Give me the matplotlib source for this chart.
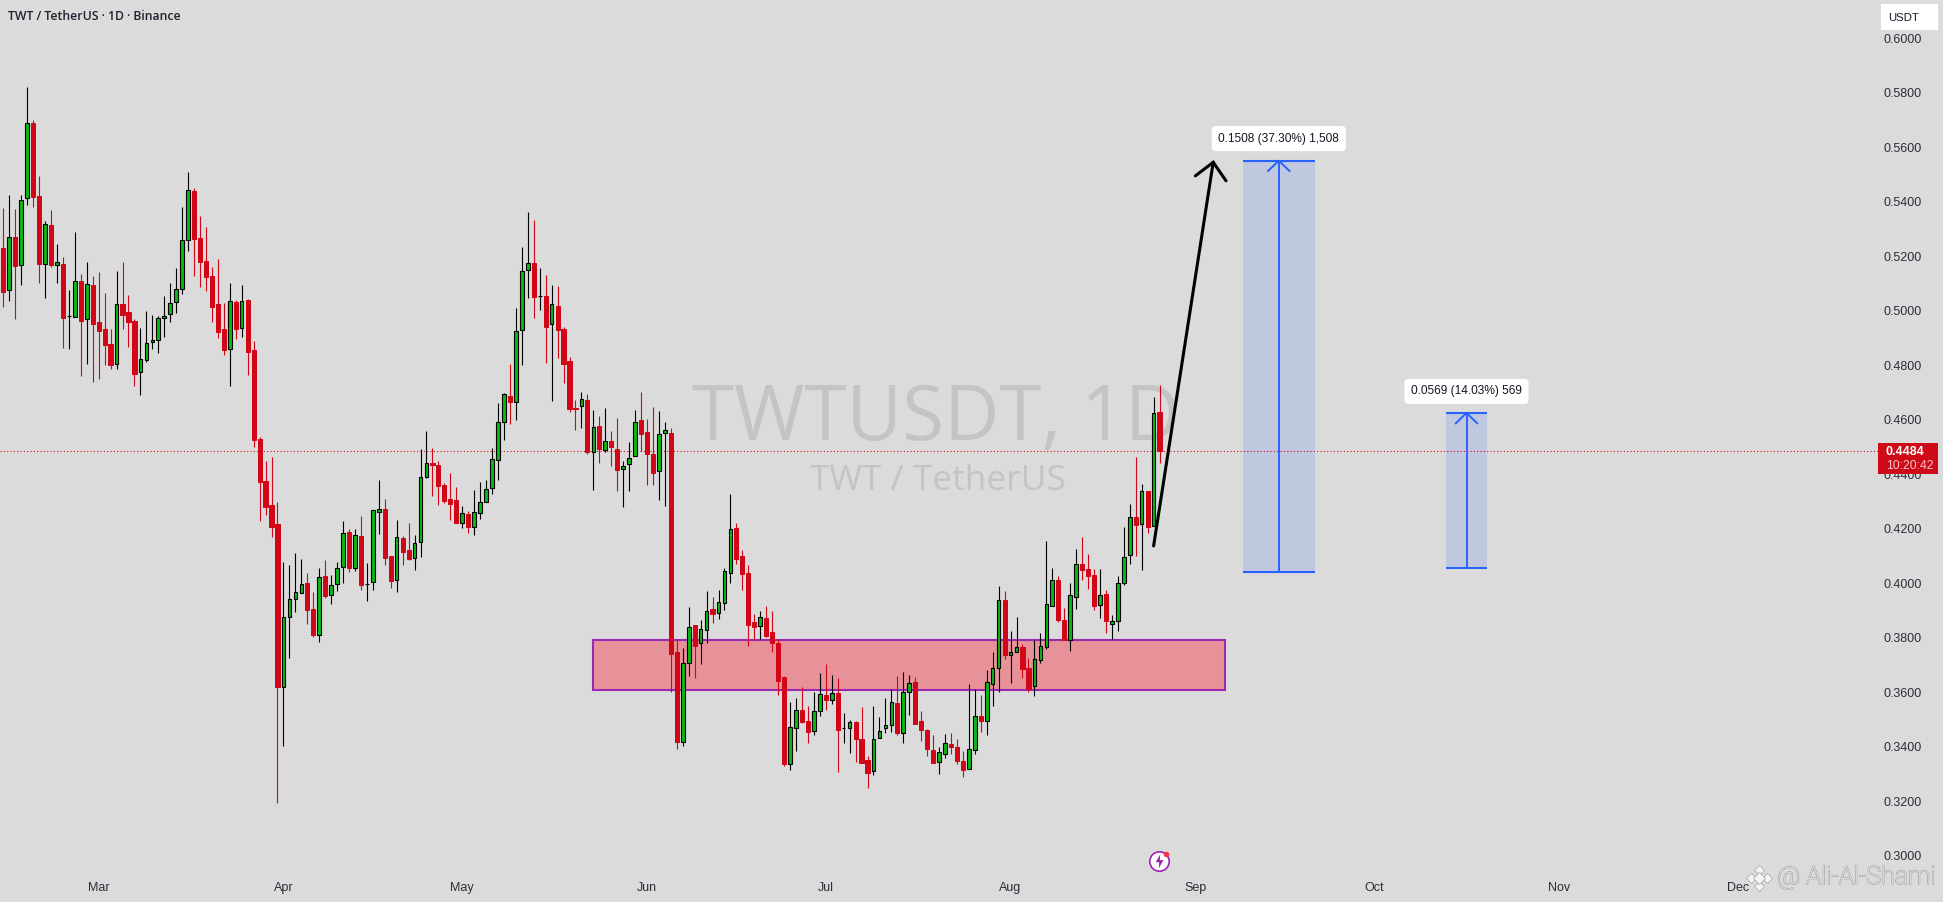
import numpy as np
import matplotlib
matplotlib.use('Agg')
import matplotlib.pyplot as plt
from matplotlib.lines import Line2D
from matplotlib.patches import Rectangle
import matplotlib.patheffects as pe

W, H = 1943, 902

# daily candles, one per day from Feb 13
opens = [
    .5229, .5075, .5270, .5167, .5413, .5688, .5420, .5170, .5313, .5167,
    .5170, .4979, .4976, .5108, .4969, .5093, .4957, .4932, .4877, .4803,
    .5024, .4994, .4961, .4774, .4818, .4884, .4891, .4972, .4987, .5031,
    .5079, .5258, .5438, .5266, .5181, .5126, .5024, .4932, .4858, .5031,
    .4935, .5038, .4856, .4528, .4374, .4286, .4216, .3618, .3875, .3941,
    .3963, .4000, .3905, .3809, .4025, .3956, .3996, .4058, .4187, .4055,
    .4172, .3997, .4004, .4260, .4271, .4099, .4011, .4165, .4121, .4091,
    .4150, .4391, .4440, .4434, .4361, .4310, .4306, .4222, .4253, .4208,
    .4259, .4297, .4348, .4451, .4591, .4687, .4664, .4928, .5148, .5174,
    .5053, .5053, .4950, .5016, .4932, .4815, .4643, .4650, .4672, .4481,
    .4576, .4488, .4521, .4492, .4418, .4437, .4466, .4598, .4554, .4473,
    .4411, .4550, .4550, .3748, .3419, .3706, .3846, .3782, .3830, .3906,
    .3890, .3929, .4039, .4203, .4100, .4037, .3858, .3842, .3873, .3821,
    .3781, .3656, .3338, .3468, .3535, .3495, .3456, .3530, .3589, .3573,
    .3598, .3468, .3470, .3491, .3429, .3352, .3310, .3431, .3467, .3479,
    .3561, .3452, .3602, .3638, .3495, .3462, .3388, .3343, .3375, .3410,
    .3399, .3348, .3318, .3387, .3513, .3496, .3632, .3690, .3939, .3738,
    .3749, .3766, .3688, .3624, .3720, .3765, .3916, .4011, .3866, .3791,
    .3951, .4070, .4052, .4030, .3920, .3960, .3852, .3860, .4000, .4103,
    .4244, .4217, .4338, .4209, .4628]
closes = [
    .5070, .5272, .5166, .5408, .5688, .5419, .5173, .5317, .5169, .5178,
    .4975, .4980, .5108, .4964, .5097, .4953, .4927, .4876, .4802, .5024,
    .4986, .4960, .4769, .4822, .4883, .4891, .4972, .4982, .5030, .5079,
    .5258, .5442, .5264, .5180, .5125, .5015, .4923, .4857, .5035, .4934,
    .5035, .4850, .4527, .4373, .4281, .4208, .3621, .3877, .3941, .3967,
    .3996, .3900, .3811, .4024, .3954, .3995, .4057, .4183, .4057, .4176,
    .3995, .3998, .4267, .4271, .4094, .4010, .4169, .4116, .4090, .4149,
    .4391, .4440, .4435, .4358, .4302, .4292, .4222, .4257, .4208, .4260,
    .4297, .4345, .4457, .4591, .4693, .4667, .4925, .5145, .5174, .5052,
    .5054, .4942, .5024, .4931, .4806, .4641, .4641, .4675, .4480, .4575,
    .4491, .4521, .4501, .4417, .4429, .4459, .4591, .4549, .4476, .4406,
    .4547, .4561, .3741, .3419, .3706, .3841, .3771, .3831, .3897, .3887,
    .3930, .4044, .4198, .4089, .4035, .3847, .3840, .3875, .3807, .3781,
    .3642, .3337, .3472, .3534, .3491, .3455, .3530, .3593, .3572, .3596,
    .3463, .3469, .3490, .3429, .3342, .3305, .3428, .3457, .3479, .3563,
    .3451, .3600, .3633, .3484, .3462, .3390, .3341, .3379, .3413, .3399,
    .3348, .3313, .3391, .3512, .3496, .3637, .3688, .3938, .3738, .3749,
    .3765, .3685, .3613, .3721, .3769, .3923, .4011, .3866, .3790, .3956,
    .4070, .4047, .4028, .3915, .3956, .3860, .3861, .4000, .4098, .4242,
    .4212, .4338, .4208, .4624, .4484]
highs = [
    .5376, .5425, .5374, .5425, .5820, .5702, .5493, .5328, .5370, .5244,
    .5197, .5076, .5288, .5134, .5179, .5126, .5141, .5065, .4932, .5146,
    .5179, .5058, .4969, .4937, .4998, .4983, .4980, .5053, .5101, .5156,
    .5381, .5508, .5449, .5348, .5306, .5159, .5189, .5027, .5101, .5038,
    .5094, .5043, .4889, .4537, .4449, .4464, .4298, .4077, .4067, .4110,
    .4089, .4038, .3968, .4056, .4085, .4029, .4077, .4229, .4198, .4198,
    .4247, .4075, .4267, .4379, .4310, .4100, .4232, .4173, .4221, .4177,
    .4492, .4559, .4496, .4449, .4367, .4403, .4352, .4284, .4264, .4342,
    .4372, .4379, .4496, .4660, .4697, .4805, .5010, .5234, .5361, .5333,
    .5156, .5131, .5095, .5091, .4940, .4829, .4673, .4702, .4695, .4636,
    .4614, .4643, .4559, .4607, .4449, .4519, .4636, .4702, .4603, .4647,
    .4632, .4591, .4569, .3792, .3761, .3912, .3847, .3864, .3972, .3950,
    .3976, .4055, .4327, .4220, .4122, .4066, .3887, .3898, .3916, .3898,
    .3795, .3660, .3565, .3579, .3618, .3550, .3601, .3670, .3704, .3664,
    .3653, .3523, .3497, .3493, .3546, .3365, .3550, .3510, .3579, .3612,
    .3660, .3675, .3664, .3656, .3532, .3466, .3444, .3399, .3447, .3451,
    .3429, .3385, .3631, .3612, .3590, .3682, .3748, .3990, .3972, .3824,
    .3875, .3776, .3725, .3792, .3817, .4154, .4055, .4027, .3910, .4000,
    .4125, .4169, .4108, .4052, .4052, .3976, .3884, .4027, .4206, .4290,
    .4463, .4364, .4338, .4683, .4728]
lows = [
    .5015, .5037, .4971, .5096, .5389, .5382, .5103, .5048, .5162, .5103,
    .4865, .4861, .4976, .4762, .4806, .4740, .4751, .4802, .4788, .4788,
    .4934, .4868, .4725, .4692, .4813, .4861, .4846, .4905, .4960, .4993,
    .5063, .5220, .5129, .5088, .5074, .4960, .4901, .4839, .4725, .4898,
    .4905, .4765, .4501, .4230, .4251, .4170, .3195, .3401, .3727, .3895,
    .3963, .3851, .3804, .3786, .3947, .3924, .3973, .4001, .4041, .4046,
    .3975, .3935, .3975, .4181, .4067, .3983, .3968, .4067, .4085, .4049,
    .4098, .4386, .4320, .4287, .4295, .4232, .4222, .4203, .4184, .4177,
    .4236, .4297, .4328, .4379, .4526, .4586, .4599, .4802, .5048, .4975,
    .5003, .4810, .4670, .4827, .4736, .4629, .4564, .4571, .4475, .4344,
    .4443, .4483, .4432, .4340, .4278, .4340, .4466, .4487, .4362, .4362,
    .4307, .4285, .3602, .3393, .3403, .3660, .3654, .3704, .3781, .3854,
    .3869, .3902, .4002, .4071, .3977, .3768, .3790, .3797, .3803, .3748,
    .3590, .3330, .3315, .3385, .3488, .3414, .3444, .3514, .3533, .3557,
    .3309, .3414, .3377, .3344, .3342, .3249, .3297, .3431, .3451, .3455,
    .3444, .3414, .3517, .3484, .3421, .3366, .3341, .3300, .3360, .3374,
    .3337, .3289, .3318, .3374, .3454, .3443, .3550, .3601, .3722, .3634,
    .3749, .3652, .3601, .3586, .3709, .3758, .3916, .3858, .3790, .3752,
    .3907, .4013, .3979, .3902, .3873, .3818, .3795, .3823, .3994, .4071,
    .4101, .4049, .4186, .4209, .4442]

month_labels = ['Mar', 'Apr', 'May', 'Jun', 'Jul', 'Aug', 'Sep', 'Oct', 'Nov', 'Dec']
month_days = [16, 47, 77, 108, 138, 169, 200, 230, 261, 291]
price_ticks = [0.30 + 0.02 * i for i in range(16)]
last_price = 0.4484

bg = '#dbdbdb'
green, red = '#0bb814', '#d10717'
blue = '#2962ff'
font = ['Liberation Sans', 'DejaVu Sans']
plt.rcParams['font.family'] = font

fig = plt.figure(figsize=(W / 100, H / 100), dpi=100, facecolor=bg)
ax = fig.add_axes([0, 30 / H, 1878 / W, 872 / H], facecolor=bg)
ax.set_xlim(-0.554, 314.54)
ax.set_ylim(0.29402, 0.61406)
for s in ax.spines.values():
    s.set_visible(False)

ax.set_xticks(month_days)
ax.set_xticklabels(month_labels)
ax.set_yticks(price_ticks)
ax.set_yticklabels(['%.4f' % p for p in price_ticks])
ax.yaxis.tick_right()
ax.tick_params(axis='both', length=0, labelsize=9, labelcolor='#2a2e39')
ax.tick_params(axis='y', pad=4.3)
ax.tick_params(axis='x', pad=7.2)


def px(x, y):
    return x / W, 1 - y / H


# big symbol watermark behind everything
ax.text(156.5, 0.4526, 'TWTUSDT, 1D', fontsize=55, color='#c3c4c6', ha='center',
        va='baseline', family='Open Sans', zorder=0.5)
ax.text(156.8, 0.4342, 'TWT / TetherUS', fontsize=25.5, color='#c3c4c6', ha='center',
        va='baseline', family='Open Sans', zorder=0.5)

# support zone
ax.add_patch(Rectangle((99, 0.3608), 106, 0.3792 - 0.3608, fc='#e69298',
                       ec='#9c27b0', lw=1.5, zorder=1))

# price range tools
for left, right, base, top in [(208, 220, .4043, .5551), (242, 249, .4056, .4625)]:
    mid = (left + right) / 2
    ax.add_patch(Rectangle((left, base), right - left, top - base, fc='#bfc8df', ec='none', zorder=1.5))
    ax.hlines([base, top], left, right, color=blue, lw=1.5, zorder=2.5)
    ax.plot([mid, mid], [base, top], color=blue, lw=1.4, zorder=2.5)
    ax.plot([mid - 1.8, mid, mid + 1.8], [top - .0038, top, top - .0038], color=blue, lw=1.4, zorder=2.5)

ax.axhline(last_price, color=red, lw=0.8, ls=(0, (1, 2)), zorder=2)

# candles
x = np.arange(len(opens))
o, c, h, l = map(np.array, (opens, closes, highs, lows))
up = c >= o
ax.vlines(x[up], l[up], h[up], color='black', lw=0.8, zorder=3)
ax.vlines(x[~up], l[~up], h[~up], color=red, lw=0.8, zorder=3)
ax.bar(x[~up], (o - c)[~up], bottom=c[~up], width=0.7, color=red, edgecolor=red, lw=0.72, zorder=4)
ax.bar(x[up], (c - o)[up], bottom=o[up], width=0.6, color=green, edgecolor='black', lw=0.8, zorder=4.1)

# hand drawn black arrow
ax.plot([193, 203], [.4137, .5545], color='black', lw=2.2, solid_capstyle='round', zorder=5)
ax.plot([200, 203, 205.15], [.5495, .5545, .5477], color='black', lw=2.2,
        solid_capstyle='round', solid_joinstyle='miter', zorder=5)

# measure labels
box = dict(boxstyle='round,pad=0.55,rounding_size=0.35', fc='white', ec='none')
ax.text(214, .5632, '0.1508 (37.30%) 1,508', fontsize=8.6, color='#131722', ha='center', va='center', bbox=box, zorder=6)
ax.text(245.5, .4704, '0.0569 (14.03%) 569', fontsize=8.6, color='#131722', ha='center', va='center', bbox=box, zorder=6)

# lightning icon
ax.plot([193.9], [.2981], 'o', ms=14, mfc='white', mec='#a01fb5', mew=1.2, zorder=6)
bolt = [(0.1, 1), (-0.55, -0.1), (-0.05, -0.1), (-0.1, -1), (0.55, 0.2), (0.05, 0.2)]
ax.plot([193.9], [.2981], marker=bolt, ms=10, mfc='#a01fb5', mec='none', zorder=6.1)
ax.plot([195.0], [.3007], 'o', ms=4, mfc='#f23645', mec='none', zorder=6.2)

# price scale tags
fig.add_artist(Rectangle(px(1881, 30), 57 / W, 26 / H, fc='white', ec='none', transform=fig.transFigure))
fig.text(*px(1904, 18), 'USDT', fontsize=8.2, color='#131722', ha='center', va='center')
fig.add_artist(Rectangle(px(1878, 474), 60 / W, 31 / H, fc='#cf0a18', ec='none', transform=fig.transFigure, zorder=5))
fig.text(*px(1886, 451.5), '0.4484', fontsize=9, color='white', fontweight='bold', ha='left', va='center', zorder=6)
fig.text(*px(1886, 466), '10:20:42', fontsize=8.8, color='#f7c4c8', ha='left', va='center', zorder=6)

fig.text(*px(8, 16), 'TWT / TetherUS · 1D · Binance', fontsize=8.85, color='#1e222d',
         ha='left', va='center', family='Open Sans', fontweight='semibold')

# corner credit
shadow = [pe.withStroke(linewidth=1.0, foreground='#a8a8a8')]
fig.text(*px(1777, 877), '@ Ali-Al-Shami', fontsize=18, color='#f4f4f4', ha='left', va='center',
         family='Roboto', fontweight='light', path_effects=shadow, zorder=6)
cx, cy = 1758.5, 878
for dx, dy, size in [(0, -8, 5.5), (0, 8, 5.5), (-8, 0, 5.5), (8, 0, 5.5), (0, 0, 6)]:
    fx, fy = px(cx + dx, cy + dy)
    fig.add_artist(Line2D([fx], [fy], marker='D', ms=size, mfc='#f4f4f4', mec='#a8a8a8', mew=0.5,
                          ls='none', transform=fig.transFigure, zorder=6))

fig.savefig('out.png', dpi=100, facecolor=bg)
